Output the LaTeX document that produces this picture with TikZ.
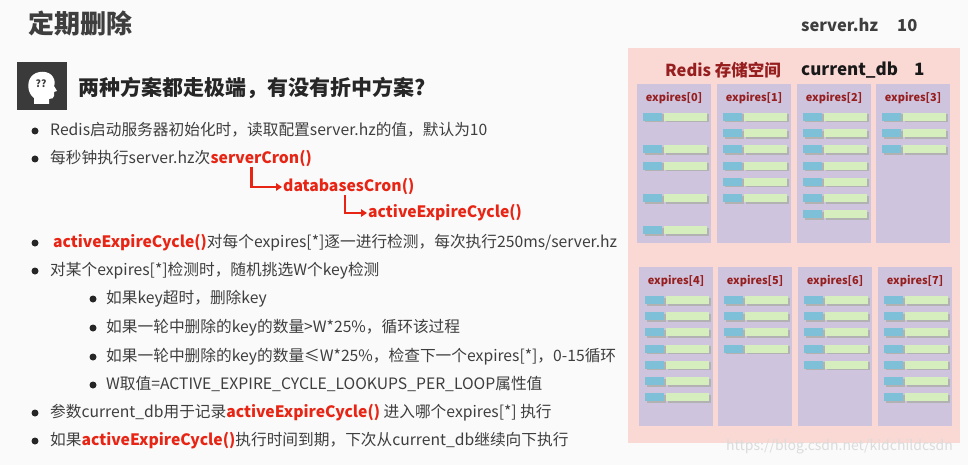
\documentclass[tikz,border=0pt]{standalone}
\usepackage{fontspec}
\setmainfont{Noto Sans CJK SC}
\usetikzlibrary{positioning,arrows.meta}
\definecolor{txtgray}{RGB}{62,62,62}
\definecolor{hotred}{RGB}{232,36,20}
\definecolor{panelpink}{RGB}{250,216,212}
\definecolor{colpurple}{RGB}{206,196,222}
\definecolor{keyblue}{RGB}{125,192,216}
\definecolor{valgreen}{RGB}{214,238,190}
\definecolor{darkred}{RGB}{150,30,30}
\definecolor{iconbg}{RGB}{58,58,58}
\newcommand{\redfn}[1]{{\color{hotred}\bfseries #1}}

\begin{document}
\begin{tikzpicture}[x=1pt,y=-1pt,
  body/.style={anchor=west,inner sep=0pt,text=txtgray,text height=12pt,text depth=3.5pt,font=\fontsize{15.7}{18}\selectfont},
  hot/.style={body,text=hotred,font=\fontsize{15.7}{18}\selectfont\bfseries},
  dot/.style={circle,fill=black!85,inner sep=0pt,minimum size=7pt},
  colbox/.style={fill=colpurple,inner sep=0pt,anchor=north west},
  collabel/.style={text=darkred,inner sep=0pt,font=\fontsize{11}{13}\selectfont\bfseries},
  redarrow/.style={hotred,line width=2.4pt,shorten >=1pt,-{Triangle[length=6pt,width=7.5pt]}}]
  \useasboundingbox (0,0) rectangle (968,465);
  \fill[white!98!black] (0,0) rectangle (968,465);

  \node[anchor=west,inner sep=0pt,text=txtgray,font=\fontsize{26}{30}\selectfont\bfseries] (title) at (28,24) {定期删除};
  \node[anchor=west,inner sep=0pt,text=txtgray,font=\fontsize{16.5}{20}\selectfont\bfseries] (hz) at (801,25) {server.hz\hspace{19pt}10};

  \fill[iconbg] (17,62) rectangle (67,110);
  \fill[white] (34,104) -- (34,98) .. controls (27,93) and (27,82) .. (31,77)
    .. controls (36,70) and (49,70) .. (53,77) .. controls (55,80) and (55,84) .. (54,86)
    -- (57,91) -- (54,92) -- (54,96) .. controls (54,98) and (52,99) .. (49,99) -- (49,104) -- cycle;
  \node[inner sep=0pt,text=iconbg,font=\fontsize{10}{10}\selectfont\bfseries] (qq) at (41,84) {??};
  \node[anchor=west,inner sep=0pt,text=black!85,font=\fontsize{21}{24}\selectfont\bfseries] (ask) at (78,88) {两种方案都走极端，有没有折中方案?};

  \foreach \y [count=\n] in {131,159,243,271,413,441}
    \node[dot] (b\n) at (35,\y) {};
  \foreach \y [count=\n] in {299,328,357,385}
    \node[dot] (sb\n) at (93,\y) {};

  \node[body] (l1) at (50,131) {Redis启动服务器初始化时，读取配置server.hz的值，默认为10};
  \node[body] (l2) at (50,159) {每秒钟执行server.hz次};
  \node[hot,right=0pt of l2] (sc) {serverCron()};
  \node[hot] (dc) at (283,187) {databasesCron()};
  \node[hot] (ac) at (368,213) {activeExpireCycle()};
  \draw[redarrow] ([xshift=41pt]sc.south west) |- (dc.west);
  \draw[redarrow] ([xshift=62pt]dc.south west) |- (ac.west);
  \node[body] (l3) at (53,243) {\redfn{activeExpireCycle()}对每个expires[*]逐一进行检测，每次执行250ms/server.hz};
  \node[body] (l4) at (50,271) {对某个expires[*]检测时，随机挑选W个key检测};
  \node[body] (s1) at (106,299) {如果key超时，删除key};
  \node[body] (s2) at (106,328) {如果一轮中删除的key的数量>W*25\%，循环该过程};
  \node[body] (s3) at (106,357) {如果一轮中删除的key的数量≤W*25\%，检查下一个expires[*]，0-15循环};
  \node[body] (s4) at (106,385) {W取值=ACTIVE\_EXPIRE\_CYCLE\_LOOKUPS\_PER\_LOOP属性值};
  \node[body] (l5) at (50,413) {参数current\_db用于记录\redfn{activeExpireCycle()} 进入哪个expires[*] 执行};
  \node[body] (l6) at (50,441) {如果\redfn{activeExpireCycle()}执行时间到期，下次从current\_db继续向下执行};

  \fill[panelpink] (628,48) rectangle (960,443);
  \node[anchor=west,inner sep=0pt,text=darkred,font=\fontsize{16.5}{20}\selectfont\bfseries] (redis) at (665,70) {Redis 存储空间};
  \node[anchor=west,inner sep=0pt,text=black!90,font=\fontsize{17}{20}\selectfont\bfseries] (curdb) at (801,70) {current\_db\hspace{16pt}1};

  \foreach \c/\cx/\cy/\slots in {0/637/84/{0,2,3,5,7}, 1/717/84/{0,1,2,3,4,5}, 2/797/84/{0,1,2,3,4,5,6}, 3/876/84/{0,1,2},
      4/639/267/{0,1,2,3,4,5,6}, 5/718/267/{0,1,2,3}, 6/798/267/{0,1,2,3,4}, 7/878/267/{0,1,2,3,4,5,6}} {
    \node[colbox,minimum width=74pt,minimum height=159pt] (col\c) at (\cx,\cy) {};
    \node[collabel] (lab\c) at (\cx+37,\cy+14) {expires[\c]};
    \foreach \k in \slots {
      \fill[black!30] (\cx+7.5,\cy+30.5+16.2*\k) rectangle ++(19,8);
      \fill[black!30] (\cx+28.5,\cy+30.5+16.2*\k) rectangle ++(43,8);
      \fill[keyblue] (\cx+6,\cy+29+16.2*\k) rectangle ++(19,8);
      \fill[valgreen] (\cx+27,\cy+29+16.2*\k) rectangle ++(43,8);
    }
  }

  \node[anchor=west,inner sep=0pt,text=white!72!gray,font=\fontsize{14}{16}\selectfont] (mark) at (726,447) {https://blog.csdn.net/kidchildcsdn};
\end{tikzpicture}
\end{document}
